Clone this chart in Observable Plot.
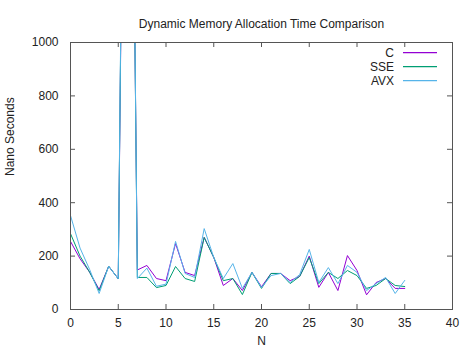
<!DOCTYPE html>
<html>
<head>
<meta charset="utf-8">
<script src="https://cdn.jsdelivr.net/npm/d3@7"></script>
<script src="https://cdn.jsdelivr.net/npm/@observablehq/plot@0.6"></script>
<style>
  html, body { margin: 0; padding: 0; background: #fff; }
  #chart svg { display: block; }
</style>
</head>
<body>
<div id="chart"></div>
<script>
const title = "Dynamic Memory Allocation Time Comparison";
const xLabel = "N";
const yLabel = "Nano Seconds";
const seriesNames = ["C", "SSE", "AVX"];
const seriesColors = ["#9400d3", "#009e73", "#56b4e9"];
const N = [0,1,2,3,4,5,6,7,8,9,10,11,12,13,14,15,16,17,18,19,20,21,22,23,24,25,26,27,28,29,30,31,32,33,34,35];
const C   = [255,190,140,75,162,115,3500,148,165,116,108,247,139,127,270,195,90,116,71,139,85,135,135,108,124,200,83,139,71,202,146,55,101,116,79,79];
const SSE = [284,200,140,70,162,115,3600,120,120,82,90,161,116,105,270,195,108,116,56,139,79,135,135,97,124,195,97,139,116,146,127,79,90,116,90,86];
const AVX = [352,230,150,60,162,115,3700,116,155,87,95,255,135,120,303,195,116,172,79,139,82,127,135,101,131,225,101,157,97,165,139,71,97,120,60,109];
const xTicks = [0,5,10,15,20,25,30,35,40];
const yTicks = [0,200,400,600,800,1000];

const seriesValues = [C, SSE, AVX];
const data = seriesNames.flatMap((s, i) => N.map((n, j) => ({series: s, n, v: seriesValues[i][j]})));

const W = 474, H = 355;
const mL = 70, mR = 22, mT = 42, mB = 46;
const fw = W - mL - mR, fh = H - mT - mB;
const tk = 5;
const axisColor = "#555";

const legend = (index, scales, values, dims) => {
  const g = d3.create("svg:g");
  const xr = dims.width - dims.marginRight;
  seriesNames.forEach((s, i) => {
    const y = dims.marginTop + 10.7 + 14 * i;
    g.append("text").attr("x", xr - 58).attr("y", y).attr("dy", "0.35em")
      .attr("text-anchor", "end").attr("fill", "#222").text(s);
    g.append("line").attr("x1", xr - 49).attr("x2", xr - 15).attr("y1", y).attr("y2", y)
      .attr("stroke", seriesColors[i]).attr("stroke-width", 1.2);
  });
  return g.node();
};

const chart = Plot.plot({
  width: W, height: H,
  marginLeft: mL, marginRight: mR, marginTop: mT, marginBottom: mB,
  style: {fontFamily: "'Liberation Sans', Arial, sans-serif", fontSize: "12px", color: "#222", background: "#fff"},
  x: {domain: [0, 40]},
  y: {domain: [0, 1000]},
  color: {domain: seriesNames, range: seriesColors},
  marks: [
    Plot.line(data, {x: "n", y: "v", z: "series", stroke: "series", strokeWidth: 1, clip: true}),
    Plot.frame({stroke: axisColor, strokeWidth: 1}),
    Plot.tickX(xTicks, {x: d => d, insetTop: fh - tk, stroke: axisColor}),
    Plot.tickX(xTicks, {x: d => d, insetBottom: fh - tk, stroke: axisColor}),
    Plot.tickY(yTicks, {y: d => d, insetRight: fw - tk, stroke: axisColor}),
    Plot.tickY(yTicks, {y: d => d, insetLeft: fw - tk, stroke: axisColor}),
    Plot.axisX({ticks: xTicks, tickSize: 0, tickPadding: 9, label: null, fill: "#222", tickFormat: d3.format("d")}),
    Plot.axisY({ticks: yTicks, tickSize: 0, tickPadding: 12, label: null, fill: "#222", tickFormat: d3.format("d")}),
    Plot.text([title], {frameAnchor: "top", dy: -23, fill: "#222"}),
    Plot.text([xLabel], {frameAnchor: "bottom", dy: 35, fill: "#222"}),
    Plot.text([yLabel], {frameAnchor: "left", dx: -60, rotate: -90, fill: "#222"}),
    legend
  ]
});
document.getElementById("chart").appendChild(chart);
</script>
</body>
</html>
